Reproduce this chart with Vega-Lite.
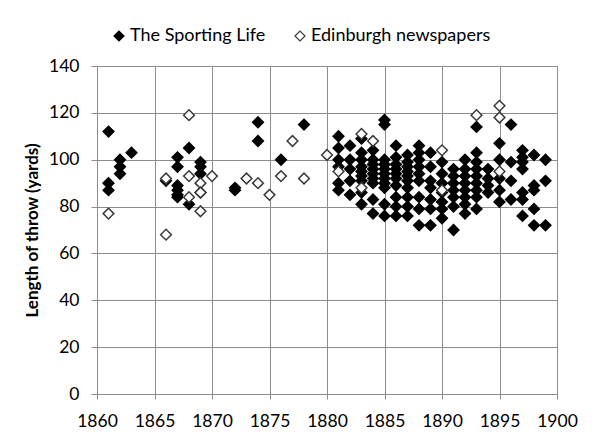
{
  "$schema": "https://vega.github.io/schema/vega-lite/v6.json",
  "width": 460,
  "height": 328,
  "autosize": {"type": "none"},
  "padding": {"left": 97, "top": 66, "right": 38, "bottom": 47},
  "background": "white",
  "config": {
    "font": "Lato",
    "view": {"stroke": "#8c8c8c", "strokeWidth": 1}
  },
  "data": {
    "values": [
      {"year": 1861, "yards": 112, "source": "The Sporting Life"},
      {"year": 1861, "yards": 90, "source": "The Sporting Life"},
      {"year": 1861, "yards": 87, "source": "The Sporting Life"},
      {"year": 1862, "yards": 100, "source": "The Sporting Life"},
      {"year": 1862, "yards": 97, "source": "The Sporting Life"},
      {"year": 1862, "yards": 94, "source": "The Sporting Life"},
      {"year": 1863, "yards": 103, "source": "The Sporting Life"},
      {"year": 1866, "yards": 91, "source": "The Sporting Life"},
      {"year": 1867, "yards": 101, "source": "The Sporting Life"},
      {"year": 1867, "yards": 97, "source": "The Sporting Life"},
      {"year": 1867, "yards": 89, "source": "The Sporting Life"},
      {"year": 1867, "yards": 87, "source": "The Sporting Life"},
      {"year": 1867, "yards": 85, "source": "The Sporting Life"},
      {"year": 1867, "yards": 84, "source": "The Sporting Life"},
      {"year": 1868, "yards": 105, "source": "The Sporting Life"},
      {"year": 1868, "yards": 81, "source": "The Sporting Life"},
      {"year": 1869, "yards": 99, "source": "The Sporting Life"},
      {"year": 1869, "yards": 97, "source": "The Sporting Life"},
      {"year": 1869, "yards": 94, "source": "The Sporting Life"},
      {"year": 1869, "yards": 86, "source": "The Sporting Life"},
      {"year": 1872, "yards": 88, "source": "The Sporting Life"},
      {"year": 1872, "yards": 87, "source": "The Sporting Life"},
      {"year": 1874, "yards": 116, "source": "The Sporting Life"},
      {"year": 1874, "yards": 108, "source": "The Sporting Life"},
      {"year": 1876, "yards": 100, "source": "The Sporting Life"},
      {"year": 1878, "yards": 115, "source": "The Sporting Life"},
      {"year": 1881, "yards": 110, "source": "The Sporting Life"},
      {"year": 1881, "yards": 105, "source": "The Sporting Life"},
      {"year": 1881, "yards": 100, "source": "The Sporting Life"},
      {"year": 1881, "yards": 97, "source": "The Sporting Life"},
      {"year": 1881, "yards": 90, "source": "The Sporting Life"},
      {"year": 1881, "yards": 87, "source": "The Sporting Life"},
      {"year": 1882, "yards": 106, "source": "The Sporting Life"},
      {"year": 1882, "yards": 100, "source": "The Sporting Life"},
      {"year": 1882, "yards": 96, "source": "The Sporting Life"},
      {"year": 1882, "yards": 91, "source": "The Sporting Life"},
      {"year": 1882, "yards": 85, "source": "The Sporting Life"},
      {"year": 1883, "yards": 109, "source": "The Sporting Life"},
      {"year": 1883, "yards": 103, "source": "The Sporting Life"},
      {"year": 1883, "yards": 100, "source": "The Sporting Life"},
      {"year": 1883, "yards": 97, "source": "The Sporting Life"},
      {"year": 1883, "yards": 95, "source": "The Sporting Life"},
      {"year": 1883, "yards": 93, "source": "The Sporting Life"},
      {"year": 1883, "yards": 91, "source": "The Sporting Life"},
      {"year": 1883, "yards": 86, "source": "The Sporting Life"},
      {"year": 1883, "yards": 81, "source": "The Sporting Life"},
      {"year": 1884, "yards": 104, "source": "The Sporting Life"},
      {"year": 1884, "yards": 100, "source": "The Sporting Life"},
      {"year": 1884, "yards": 98, "source": "The Sporting Life"},
      {"year": 1884, "yards": 96, "source": "The Sporting Life"},
      {"year": 1884, "yards": 94, "source": "The Sporting Life"},
      {"year": 1884, "yards": 92, "source": "The Sporting Life"},
      {"year": 1884, "yards": 90, "source": "The Sporting Life"},
      {"year": 1884, "yards": 83, "source": "The Sporting Life"},
      {"year": 1884, "yards": 77, "source": "The Sporting Life"},
      {"year": 1885, "yards": 117, "source": "The Sporting Life"},
      {"year": 1885, "yards": 115, "source": "The Sporting Life"},
      {"year": 1885, "yards": 100, "source": "The Sporting Life"},
      {"year": 1885, "yards": 98, "source": "The Sporting Life"},
      {"year": 1885, "yards": 96, "source": "The Sporting Life"},
      {"year": 1885, "yards": 94, "source": "The Sporting Life"},
      {"year": 1885, "yards": 92, "source": "The Sporting Life"},
      {"year": 1885, "yards": 90, "source": "The Sporting Life"},
      {"year": 1885, "yards": 88, "source": "The Sporting Life"},
      {"year": 1885, "yards": 81, "source": "The Sporting Life"},
      {"year": 1885, "yards": 76, "source": "The Sporting Life"},
      {"year": 1886, "yards": 106, "source": "The Sporting Life"},
      {"year": 1886, "yards": 101, "source": "The Sporting Life"},
      {"year": 1886, "yards": 98, "source": "The Sporting Life"},
      {"year": 1886, "yards": 96, "source": "The Sporting Life"},
      {"year": 1886, "yards": 94, "source": "The Sporting Life"},
      {"year": 1886, "yards": 92, "source": "The Sporting Life"},
      {"year": 1886, "yards": 89, "source": "The Sporting Life"},
      {"year": 1886, "yards": 84, "source": "The Sporting Life"},
      {"year": 1886, "yards": 80, "source": "The Sporting Life"},
      {"year": 1886, "yards": 76, "source": "The Sporting Life"},
      {"year": 1887, "yards": 102, "source": "The Sporting Life"},
      {"year": 1887, "yards": 99, "source": "The Sporting Life"},
      {"year": 1887, "yards": 97, "source": "The Sporting Life"},
      {"year": 1887, "yards": 95, "source": "The Sporting Life"},
      {"year": 1887, "yards": 93, "source": "The Sporting Life"},
      {"year": 1887, "yards": 91, "source": "The Sporting Life"},
      {"year": 1887, "yards": 88, "source": "The Sporting Life"},
      {"year": 1887, "yards": 84, "source": "The Sporting Life"},
      {"year": 1887, "yards": 80, "source": "The Sporting Life"},
      {"year": 1887, "yards": 76, "source": "The Sporting Life"},
      {"year": 1888, "yards": 106, "source": "The Sporting Life"},
      {"year": 1888, "yards": 103, "source": "The Sporting Life"},
      {"year": 1888, "yards": 100, "source": "The Sporting Life"},
      {"year": 1888, "yards": 97, "source": "The Sporting Life"},
      {"year": 1888, "yards": 94, "source": "The Sporting Life"},
      {"year": 1888, "yards": 91, "source": "The Sporting Life"},
      {"year": 1888, "yards": 84, "source": "The Sporting Life"},
      {"year": 1888, "yards": 79, "source": "The Sporting Life"},
      {"year": 1888, "yards": 72, "source": "The Sporting Life"},
      {"year": 1889, "yards": 103, "source": "The Sporting Life"},
      {"year": 1889, "yards": 97, "source": "The Sporting Life"},
      {"year": 1889, "yards": 91, "source": "The Sporting Life"},
      {"year": 1889, "yards": 88, "source": "The Sporting Life"},
      {"year": 1889, "yards": 83, "source": "The Sporting Life"},
      {"year": 1889, "yards": 79, "source": "The Sporting Life"},
      {"year": 1889, "yards": 72, "source": "The Sporting Life"},
      {"year": 1890, "yards": 99, "source": "The Sporting Life"},
      {"year": 1890, "yards": 94, "source": "The Sporting Life"},
      {"year": 1890, "yards": 90, "source": "The Sporting Life"},
      {"year": 1890, "yards": 86, "source": "The Sporting Life"},
      {"year": 1890, "yards": 82, "source": "The Sporting Life"},
      {"year": 1890, "yards": 79, "source": "The Sporting Life"},
      {"year": 1890, "yards": 75, "source": "The Sporting Life"},
      {"year": 1891, "yards": 96, "source": "The Sporting Life"},
      {"year": 1891, "yards": 93, "source": "The Sporting Life"},
      {"year": 1891, "yards": 90, "source": "The Sporting Life"},
      {"year": 1891, "yards": 87, "source": "The Sporting Life"},
      {"year": 1891, "yards": 84, "source": "The Sporting Life"},
      {"year": 1891, "yards": 80, "source": "The Sporting Life"},
      {"year": 1891, "yards": 70, "source": "The Sporting Life"},
      {"year": 1892, "yards": 100, "source": "The Sporting Life"},
      {"year": 1892, "yards": 96, "source": "The Sporting Life"},
      {"year": 1892, "yards": 93, "source": "The Sporting Life"},
      {"year": 1892, "yards": 90, "source": "The Sporting Life"},
      {"year": 1892, "yards": 87, "source": "The Sporting Life"},
      {"year": 1892, "yards": 84, "source": "The Sporting Life"},
      {"year": 1892, "yards": 81, "source": "The Sporting Life"},
      {"year": 1892, "yards": 77, "source": "The Sporting Life"},
      {"year": 1893, "yards": 114, "source": "The Sporting Life"},
      {"year": 1893, "yards": 103, "source": "The Sporting Life"},
      {"year": 1893, "yards": 99, "source": "The Sporting Life"},
      {"year": 1893, "yards": 96, "source": "The Sporting Life"},
      {"year": 1893, "yards": 93, "source": "The Sporting Life"},
      {"year": 1893, "yards": 90, "source": "The Sporting Life"},
      {"year": 1893, "yards": 87, "source": "The Sporting Life"},
      {"year": 1893, "yards": 84, "source": "The Sporting Life"},
      {"year": 1893, "yards": 79, "source": "The Sporting Life"},
      {"year": 1894, "yards": 96, "source": "The Sporting Life"},
      {"year": 1894, "yards": 92, "source": "The Sporting Life"},
      {"year": 1894, "yards": 89, "source": "The Sporting Life"},
      {"year": 1894, "yards": 86, "source": "The Sporting Life"},
      {"year": 1895, "yards": 107, "source": "The Sporting Life"},
      {"year": 1895, "yards": 100, "source": "The Sporting Life"},
      {"year": 1895, "yards": 92, "source": "The Sporting Life"},
      {"year": 1895, "yards": 87, "source": "The Sporting Life"},
      {"year": 1895, "yards": 82, "source": "The Sporting Life"},
      {"year": 1896, "yards": 115, "source": "The Sporting Life"},
      {"year": 1896, "yards": 99, "source": "The Sporting Life"},
      {"year": 1896, "yards": 91, "source": "The Sporting Life"},
      {"year": 1896, "yards": 83, "source": "The Sporting Life"},
      {"year": 1897, "yards": 104, "source": "The Sporting Life"},
      {"year": 1897, "yards": 101, "source": "The Sporting Life"},
      {"year": 1897, "yards": 99, "source": "The Sporting Life"},
      {"year": 1897, "yards": 96, "source": "The Sporting Life"},
      {"year": 1897, "yards": 86, "source": "The Sporting Life"},
      {"year": 1897, "yards": 83, "source": "The Sporting Life"},
      {"year": 1897, "yards": 76, "source": "The Sporting Life"},
      {"year": 1898, "yards": 102, "source": "The Sporting Life"},
      {"year": 1898, "yards": 89, "source": "The Sporting Life"},
      {"year": 1898, "yards": 87, "source": "The Sporting Life"},
      {"year": 1898, "yards": 79, "source": "The Sporting Life"},
      {"year": 1898, "yards": 72, "source": "The Sporting Life"},
      {"year": 1899, "yards": 100, "source": "The Sporting Life"},
      {"year": 1899, "yards": 91, "source": "The Sporting Life"},
      {"year": 1899, "yards": 72, "source": "The Sporting Life"},
      {"year": 1861, "yards": 77, "source": "Edinburgh newspapers"},
      {"year": 1866, "yards": 92, "source": "Edinburgh newspapers"},
      {"year": 1866, "yards": 68, "source": "Edinburgh newspapers"},
      {"year": 1868, "yards": 119, "source": "Edinburgh newspapers"},
      {"year": 1868, "yards": 93, "source": "Edinburgh newspapers"},
      {"year": 1868, "yards": 84, "source": "Edinburgh newspapers"},
      {"year": 1869, "yards": 90, "source": "Edinburgh newspapers"},
      {"year": 1869, "yards": 86, "source": "Edinburgh newspapers"},
      {"year": 1869, "yards": 78, "source": "Edinburgh newspapers"},
      {"year": 1870, "yards": 93, "source": "Edinburgh newspapers"},
      {"year": 1873, "yards": 92, "source": "Edinburgh newspapers"},
      {"year": 1874, "yards": 90, "source": "Edinburgh newspapers"},
      {"year": 1875, "yards": 85, "source": "Edinburgh newspapers"},
      {"year": 1876, "yards": 93, "source": "Edinburgh newspapers"},
      {"year": 1877, "yards": 108, "source": "Edinburgh newspapers"},
      {"year": 1878, "yards": 92, "source": "Edinburgh newspapers"},
      {"year": 1880, "yards": 102, "source": "Edinburgh newspapers"},
      {"year": 1881, "yards": 95, "source": "Edinburgh newspapers"},
      {"year": 1883, "yards": 111, "source": "Edinburgh newspapers"},
      {"year": 1883, "yards": 88, "source": "Edinburgh newspapers"},
      {"year": 1884, "yards": 108, "source": "Edinburgh newspapers"},
      {"year": 1890, "yards": 104, "source": "Edinburgh newspapers"},
      {"year": 1890, "yards": 87, "source": "Edinburgh newspapers"},
      {"year": 1893, "yards": 119, "source": "Edinburgh newspapers"},
      {"year": 1895, "yards": 123, "source": "Edinburgh newspapers"},
      {"year": 1895, "yards": 118, "source": "Edinburgh newspapers"},
      {"year": 1895, "yards": 95, "source": "Edinburgh newspapers"}
    ]
  },
  "mark": {"type": "point", "shape": "diamond", "filled": true, "size": 115, "strokeWidth": 1.5, "opacity": 1},
  "encoding": {
    "x": {
      "field": "year", "type": "quantitative",
      "scale": {"domain": [1860, 1900], "nice": false, "zero": false},
      "axis": {
        "title": null, "values": [1860, 1865, 1870, 1875, 1880, 1885, 1890, 1895, 1900],
        "format": "d", "grid": true, "gridColor": "#8c8c8c", "gridOpacity": 1,
        "domainColor": "#8c8c8c", "tickColor": "#8c8c8c", "tickSize": 5,
        "labelFlush": false, "labelOverlap": false,
        "labelFontSize": 17.5, "labelColor": "#000", "labelPadding": 13, "labelFont": "Lato"
      }
    },
    "y": {
      "field": "yards", "type": "quantitative",
      "scale": {"domain": [0, 140], "nice": false},
      "axis": {
        "title": "Length of throw (yards)", "values": [0, 20, 40, 60, 80, 100, 120, 140],
        "grid": true, "gridColor": "#8c8c8c", "gridOpacity": 1,
        "domainColor": "#8c8c8c", "tickColor": "#8c8c8c", "tickSize": 6,
        "labelFlush": false, "labelOverlap": false,
        "labelFontSize": 17.5, "labelColor": "#000", "labelPadding": 12, "labelFont": "Lato",
        "titleFontSize": 17, "titleFont": "Lato", "titleFontWeight": "bold", "titleColor": "#000", "titlePadding": 7
      }
    },
    "fill": {
      "field": "source", "type": "nominal", "sort": null,
      "scale": {"domain": ["The Sporting Life", "Edinburgh newspapers"], "range": ["#000000", "#ffffff"]},
      "legend": {
        "title": null, "orient": "none", "direction": "horizontal", "legendX": 13, "legendY": -39,
        "labelFontSize": 18, "labelFont": "Lato", "labelColor": "#000", "labelLimit": 400,
        "symbolSize": 100, "symbolType": "diamond",
        "columnPadding": 25, "labelOffset": 2, "symbolStrokeWidth": 1.2
      }
    },
    "stroke": {
      "field": "source", "type": "nominal", "sort": null,
      "scale": {"domain": ["The Sporting Life", "Edinburgh newspapers"], "range": ["#000000", "#3a3a3a"]}
    }
  }
}
